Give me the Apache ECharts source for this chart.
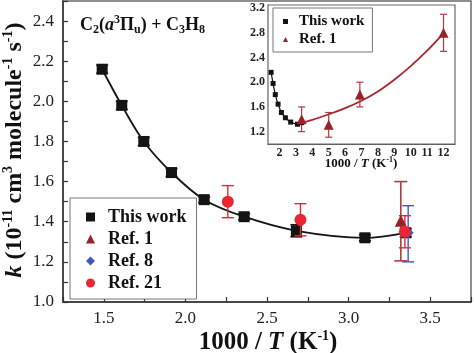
<!DOCTYPE html>
<html>
<head>
<meta charset="utf-8">
<script src="https://cdn.jsdelivr.net/npm/echarts@6/dist/echarts.min.js"></script>
<style>
html, body { margin: 0; padding: 0; background: #fff; }
#chart { width: 474px; height: 353px; }
</style>
</head>
<body>
<div id="chart"></div>
<script>
// this work (main + inset)
var thisWorkX = [1.49, 1.61, 1.745, 1.915, 2.115, 2.36, 2.68, 3.10, 3.35];
var thisWorkY = [2.16, 1.98, 1.80, 1.645, 1.51, 1.425, 1.355, 1.32, 1.345];
var thisWorkErr = [0.02, 0.02, 0.02, 0.02, 0.015, 0.015, 0.03, 0.015, 0.02];

// literature points in main panel
var ref1X = [3.32], ref1Y = [1.405], ref1Lo = [1.205], ref1Hi = [1.60];
var ref8X = [3.365], ref8Y = [1.345], ref8Lo = [1.20], ref8Hi = [1.48];
var ref21X = [2.26, 2.705, 3.345];
var ref21Y = [1.50, 1.41, 1.35];
var ref21Lo = [1.42, 1.33, 1.27];
var ref21Hi = [1.58, 1.49, 1.43];

// inset: Ref. 1 over wide range and its fit
var insetRefX = [3.35, 5.0, 6.9, 12.0];
var insetRefY = [1.40, 1.31, 1.80, 2.80];
var insetRefErr = [0.2, 0.2, 0.2, 0.3];
var insetFitX = [3.3, 4, 5, 6, 7, 8, 9, 10, 11, 12];
var insetFitY = [1.34, 1.39, 1.48, 1.58, 1.70, 1.85, 2.04, 2.26, 2.51, 2.79];

var insetXTicks = [2, 3, 4, 5, 6, 7, 8, 9, 10, 11, 12];

var serif = "'Liberation Serif', 'Times New Roman', serif";

function pts(xs, ys) {
    return xs.map(function (x, i) { return [x, ys[i]]; });
}
function bars(xs, lo, hi) {
    return xs.map(function (x, i) { return [x, lo[i], hi[i]]; });
}
function barsSym(xs, ys, err) {
    return xs.map(function (x, i) { return [x, ys[i] - err[i], ys[i] + err[i]]; });
}

function errorBars(color, cap, lw) {
    return function (params, api) {
        var x = api.value(0);
        var top = api.coord([x, api.value(2)]);
        var bot = api.coord([x, api.value(1)]);
        var s = { stroke: color, lineWidth: lw };
        return {
            type: 'group',
            children: [
                { type: 'line', shape: { x1: top[0], y1: top[1], x2: bot[0], y2: bot[1] }, style: s },
                { type: 'line', shape: { x1: top[0] - cap, y1: top[1], x2: top[0] + cap, y2: top[1] }, style: s },
                { type: 'line', shape: { x1: bot[0] - cap, y1: bot[1], x2: bot[0] + cap, y2: bot[1] }, style: s }
            ]
        };
    };
}

function errSeries(data, color, cap, lw, idx, z) {
    return {
        type: 'custom',
        xAxisIndex: idx, yAxisIndex: idx,
        data: data,
        encode: { x: 0, y: [1, 2] },
        renderItem: errorBars(color, cap, lw),
        silent: true,
        z: z
    };
}

var black = '#141414', darkRed = '#9c2027', blue = '#3f57c6', red = '#ea2730';

var bigText = { fontFamily: serif, fontWeight: 'bold', fontSize: 18, color: '#111', lineHeight: 20, padding: [0, 0, 0, 8] };
var smallText = { fontFamily: serif, fontWeight: 'bold', fontSize: 15, color: '#111', lineHeight: 17, padding: [0, 0, 0, 6] };

var option = {
    animation: false,
    grid: [
        { left: 63, right: 2, top: 1, bottom: 51, show: true, borderColor: '#6a6a6a', borderWidth: 1.5 },
        { left: 268, right: 19, top: 5, bottom: 209, show: true, borderColor: '#6a6a6a', borderWidth: 1.2, backgroundColor: '#fff', z: 3 }
    ],
    xAxis: [
        {
            type: 'value', gridIndex: 0, min: 1.25, max: 3.75, interval: 0.25,
            axisLine: { lineStyle: { color: '#333', width: 1.5 } },
            axisTick: { inside: true, length: 5, lineStyle: { color: '#333', width: 1.2 } },
            axisLabel: {
                margin: 8, color: '#222', fontFamily: serif, fontSize: 17,
                formatter: function (v) { return Math.round(v * 4) % 2 === 0 ? v.toFixed(1) : ''; }
            },
            splitLine: { show: false }
        },
        {
            type: 'value', gridIndex: 1, min: 1.3, max: 12.7,
            axisLine: { lineStyle: { color: '#555', width: 1.2 } },
            axisTick: { inside: true, length: 3, customValues: insetXTicks, lineStyle: { color: '#555' } },
            axisLabel: { margin: 3, color: '#222', fontFamily: serif, fontSize: 12, fontWeight: 'bold', customValues: insetXTicks },
            splitLine: { show: false }
        }
    ],
    yAxis: [
        {
            type: 'value', gridIndex: 0, min: 1.0, max: 2.5, interval: 0.1,
            axisLine: { show: true, lineStyle: { color: '#333', width: 1.5 } },
            axisTick: { show: true, inside: true, length: 5, lineStyle: { color: '#333', width: 1.2 } },
            axisLabel: {
                margin: 9, color: '#222', fontFamily: serif, fontSize: 17,
                formatter: function (v) { return Math.round(v * 10) % 2 === 0 ? v.toFixed(1) : ''; }
            },
            splitLine: { show: false }
        },
        {
            type: 'value', gridIndex: 1, min: 1.0, max: 3.25, interval: 0.2,
            axisLine: { show: true, lineStyle: { color: '#555', width: 1.2 } },
            axisTick: { show: true, inside: true, length: 3, lineStyle: { color: '#555' } },
            axisLabel: {
                margin: 3, color: '#222', fontFamily: serif, fontSize: 12, fontWeight: 'bold',
                formatter: function (v) { return Math.round(v * 10) % 4 === 0 ? v.toFixed(1) : ''; }
            },
            splitLine: { show: false }
        }
    ],
    legend: [
        {
            data: [
                { name: 'This work', icon: 'rect', textStyle: bigText },
                { name: 'Ref. 1', icon: 'triangle', textStyle: bigText },
                { name: 'Ref. 8', icon: 'diamond', textStyle: bigText },
                { name: 'Ref. 21', icon: 'circle', textStyle: bigText }
            ],
            orient: 'vertical', left: 70, top: 198,
            backgroundColor: '#fff', borderColor: '#777', borderWidth: 1, borderRadius: 0,
            padding: [9, 10, 6, 16], itemGap: 2, itemWidth: 9, itemHeight: 9,
            selectedMode: false, z: 10,
            textStyle: bigText
        },
        {
            data: [
                { name: 'This work', icon: 'rect', textStyle: smallText },
                { name: 'Ref. 1', icon: 'triangle', textStyle: smallText }
            ],
            orient: 'vertical', left: 273, top: 8,
            backgroundColor: '#fff', borderColor: '#777', borderWidth: 1, borderRadius: 0,
            padding: [5, 8, 4, 10], itemGap: 1, itemWidth: 5, itemHeight: 5,
            selectedMode: false, z: 10,
            textStyle: smallText
        }
    ],
    graphic: [
        {
            type: 'text', x: 80, y: 25, z: 10,
            style: {
                text: '{b|C}{sub|2}{b|(}{i|a}{sup|3}{b|Π}{sub|u}{b|) + C}{sub|3}{b|H}{sub|8}',
                textVerticalAlign: 'middle',
                rich: {
                    b: { fontFamily: serif, fontWeight: 'bold', fontSize: 18, lineHeight: 22, fill: '#111' },
                    i: { fontFamily: serif, fontWeight: 'bold', fontStyle: 'italic', fontSize: 18, lineHeight: 22, fill: '#111' },
                    sub: { fontFamily: serif, fontWeight: 'bold', fontSize: 12, lineHeight: 12, verticalAlign: 'bottom', fill: '#111' },
                    sup: { fontFamily: serif, fontWeight: 'bold', fontSize: 12, lineHeight: 12, verticalAlign: 'top', fill: '#111' }
                }
            }
        },
        {
            type: 'text', x: 15, y: 150, rotation: Math.PI / 2, z: 10,
            style: {
                text: '{i|k}{b| (10}{sup|-11}{b| cm}{sup|3}{b| molecule}{sup|-1}{b| s}{sup|-1}{b|)}',
                textAlign: 'center', textVerticalAlign: 'middle',
                rich: {
                    b: { fontFamily: serif, fontWeight: 'bold', fontSize: 24, lineHeight: 28, fill: '#111' },
                    i: { fontFamily: serif, fontWeight: 'bold', fontStyle: 'italic', fontSize: 24, lineHeight: 28, fill: '#111' },
                    sup: { fontFamily: serif, fontWeight: 'bold', fontSize: 14, lineHeight: 14, verticalAlign: 'top', fill: '#111' }
                }
            }
        },
        {
            type: 'text', x: 268, y: 343, z: 10,
            style: {
                text: '{b|1000 / }{i|T}{b| (K}{sup|-1}{b|)}',
                textAlign: 'center', textVerticalAlign: 'middle',
                rich: {
                    b: { fontFamily: serif, fontWeight: 'bold', fontSize: 25, lineHeight: 28, fill: '#111' },
                    i: { fontFamily: serif, fontWeight: 'bold', fontStyle: 'italic', fontSize: 25, lineHeight: 28, fill: '#111' },
                    sup: { fontFamily: serif, fontWeight: 'bold', fontSize: 14, lineHeight: 14, verticalAlign: 'top', fill: '#111' }
                }
            }
        },
        {
            type: 'text', x: 361, y: 164, z: 10,
            style: {
                text: '{b|1000 / }{i|T}{b| (K}{sup|-1}{b|)}',
                textAlign: 'center', textVerticalAlign: 'middle',
                rich: {
                    b: { fontFamily: serif, fontWeight: 'bold', fontSize: 13, lineHeight: 16, fill: '#111' },
                    i: { fontFamily: serif, fontWeight: 'bold', fontStyle: 'italic', fontSize: 13, lineHeight: 16, fill: '#111' },
                    sup: { fontFamily: serif, fontWeight: 'bold', fontSize: 8, lineHeight: 8, verticalAlign: 'top', fill: '#111' }
                }
            }
        }
    ],
    series: [
        // main panel
        {
            type: 'line', xAxisIndex: 0, yAxisIndex: 0, data: pts(thisWorkX, thisWorkY),
            smooth: 0.35, showSymbol: false, silent: true,
            lineStyle: { color: black, width: 1.8 }, z: 2
        },
        errSeries(barsSym(thisWorkX, thisWorkY, thisWorkErr), black, 6, 1.6, 0, 3),
        {
            name: 'This work', type: 'scatter', xAxisIndex: 0, yAxisIndex: 0,
            data: pts(thisWorkX, thisWorkY), symbol: 'rect', symbolSize: 11,
            itemStyle: { color: black, opacity: 1 }, z: 4
        },
        errSeries(bars(ref8X, ref8Lo, ref8Hi), blue, 6, 1.4, 0, 5),
        {
            name: 'Ref. 8', type: 'scatter', xAxisIndex: 0, yAxisIndex: 0,
            data: pts(ref8X, ref8Y), symbol: 'diamond', symbolSize: 11,
            itemStyle: { color: blue, opacity: 1 }, z: 5
        },
        errSeries(bars(ref1X, ref1Lo, ref1Hi), '#b23a3c', 6.5, 1.6, 0, 5),
        {
            name: 'Ref. 1', type: 'scatter', xAxisIndex: 0, yAxisIndex: 0,
            data: pts(ref1X, ref1Y), symbol: 'triangle', symbolSize: 12,
            itemStyle: { color: darkRed, opacity: 1 }, z: 6
        },
        errSeries(bars(ref21X, ref21Lo, ref21Hi), red, 6, 1.4, 0, 6),
        {
            name: 'Ref. 21', type: 'scatter', xAxisIndex: 0, yAxisIndex: 0,
            data: pts(ref21X, ref21Y), symbol: 'circle', symbolSize: 12,
            itemStyle: { color: red, opacity: 1 }, z: 7
        },
        // inset
        {
            type: 'line', xAxisIndex: 1, yAxisIndex: 1, data: pts(thisWorkX, thisWorkY),
            smooth: 0.3, showSymbol: false, silent: true,
            lineStyle: { color: black, width: 1.2 }, z: 4
        },
        {
            name: 'This work', type: 'scatter', xAxisIndex: 1, yAxisIndex: 1,
            data: pts(thisWorkX, thisWorkY), symbol: 'rect', symbolSize: 5,
            itemStyle: { color: black, opacity: 1 }, z: 5
        },
        {
            type: 'line', xAxisIndex: 1, yAxisIndex: 1, data: pts(insetFitX, insetFitY),
            smooth: 0.4, showSymbol: false, silent: true,
            lineStyle: { color: '#a8262d', width: 1.8 }, z: 4
        },
        errSeries(barsSym(insetRefX, insetRefY, insetRefErr), '#b0393b', 3.5, 1.2, 1, 5),
        {
            name: 'Ref. 1', type: 'scatter', xAxisIndex: 1, yAxisIndex: 1,
            data: pts(insetRefX, insetRefY), symbol: 'triangle', symbolSize: 10,
            itemStyle: { color: darkRed, opacity: 1 }, z: 6
        }
    ]
};

var chart = echarts.init(document.getElementById('chart'), null, { renderer: 'canvas' });
chart.setOption(option);
</script>
</body>
</html>
